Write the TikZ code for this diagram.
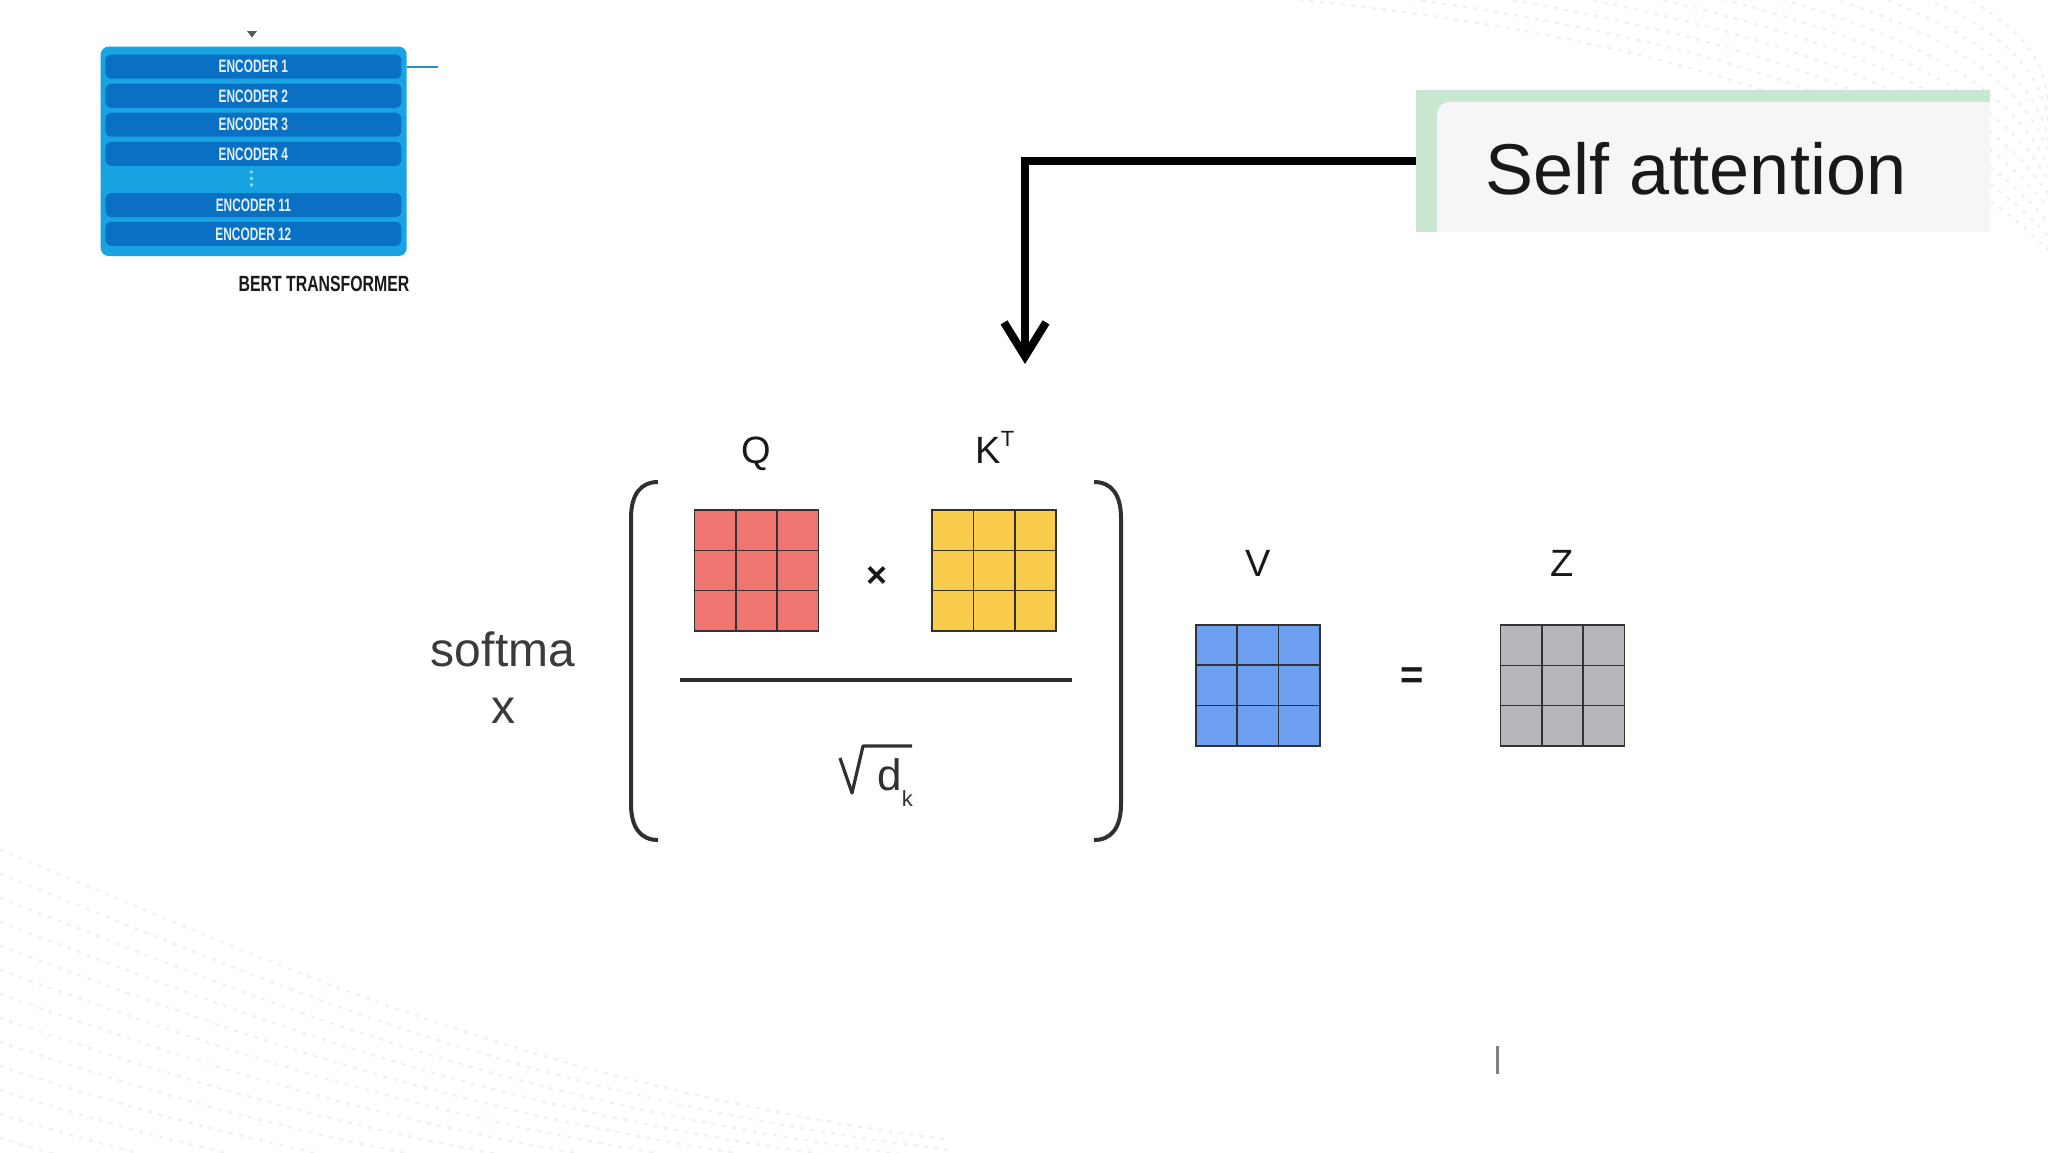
\documentclass[tikz,border=0pt]{standalone}
\usepackage{fontspec}
\setmainfont{Liberation Sans}
\newfontfamily\condfont[FakeStretch=0.66]{Liberation Sans}
\newfontfamily\titlefont[FakeStretch=0.72]{Liberation Sans}
\usetikzlibrary{arrows.meta,calc}

\definecolor{qred}{RGB}{239,118,112}
\definecolor{kyel}{RGB}{250,204,76}
\definecolor{vblue}{RGB}{109,160,240}
\definecolor{zgray}{RGB}{181,183,187}
\definecolor{gridc}{RGB}{50,50,50}
\definecolor{bertouter}{RGB}{24,164,226}
\definecolor{bertrow}{RGB}{10,112,196}
\definecolor{berttext}{RGB}{225,240,250}
\definecolor{bertdots}{RGB}{150,220,245}
\definecolor{bertline}{RGB}{40,140,200}
\definecolor{mint}{RGB}{200,230,208}
\definecolor{panel}{RGB}{246,246,248}
\definecolor{ink}{RGB}{25,25,25}
\definecolor{dotc}{RGB}{240,240,240}

\begin{document}
\begin{tikzpicture}[x=0.5pt,y=-0.5pt,
  mat/.style={draw=gridc, line width=0.8pt, minimum width=62pt, minimum height=60.5pt, inner sep=0pt,
    path picture={
      \foreach \f in {1,2}{
        \draw[gridc,line width=0.8pt]
          ($(path picture bounding box.south west)!\f/3!(path picture bounding box.south east)$) --
          ($(path picture bounding box.north west)!\f/3!(path picture bounding box.north east)$);
        \draw[gridc,line width=0.8pt]
          ($(path picture bounding box.south west)!\f/3!(path picture bounding box.north west)$) --
          ($(path picture bounding box.south east)!\f/3!(path picture bounding box.north east)$);
      }}},
  lbl/.style={font=\fontsize{19}{22}\selectfont, text=ink, inner sep=0pt, anchor=base},
  encrow/.style={fill=bertrow, rounded corners=3pt, minimum width=148pt, minimum height=12pt,
    inner sep=0pt, text=berttext, font=\condfont\bfseries\fontsize{9}{10}\selectfont},
  conn/.style={line width=4pt, draw=black, -{Straight Barb[length=17pt,width=21pt]}},
  paren/.style={line width=2pt, draw=ink!90},
  bgdots/.style={dotc, line width=1.2pt, dash pattern=on 1.2pt off 4pt, line cap=round}
]
\useasboundingbox (0,0) rectangle (2048,1152);
\fill[white] (0,0) rectangle (2048,1152);

% faint background dot waves
\foreach \i in {0,...,13}{
  \draw[bgdots] (0,850+\i*24) .. controls (250,950+\i*22) and (500,1080+\i*14) .. (950,1140+\i*10);
}
\foreach \i in {0,...,10}{
  \draw[bgdots] (1300+\i*40,0-\i*10) .. controls (1600+\i*30,30-\i*6) and (1900+\i*15,100-\i*10) .. (2048,250-\i*14);
}

% BERT block
\fill[gray!70!black] (247,31) -- (257,31) -- (252,37.5) -- cycle;
\node[fill=bertouter, rounded corners=4pt, minimum width=153pt, minimum height=104.7pt, inner sep=0pt] (bert) at (253.7,151.3) {};
\node[encrow] (enc1) at (253.4,66.7) {ENCODER 1};
\node[encrow] (enc2) at (253.4,95.8) {ENCODER 2};
\node[encrow] (enc3) at (253.4,124.7) {ENCODER 3};
\node[encrow] (enc4) at (253.4,153.8) {ENCODER 4};
\node[encrow] (enc11) at (253.4,205) {ENCODER 11};
\node[encrow] (enc12) at (253.4,233.8) {ENCODER 12};
\foreach \yy in {172,178.5,185}{\fill[bertdots] (251.5,\yy) circle (0.9pt);}
\coordinate (sideend) at (438,66.7);
\draw[bertline, line width=1pt] (bert.east |- enc1) -- (sideend);
\node[font=\titlefont\bfseries\fontsize{11}{12}\selectfont, text=ink, anchor=base, inner sep=0pt] (berttitle) at (324,291.7) {BERT TRANSFORMER};

% Self attention callout
\node[fill=mint, minimum width=287pt, minimum height=71pt, inner sep=0pt] (sa) at (1703,161) {};
\fill[panel] (1437,232) [rounded corners=6pt] -- (1437,102) [sharp corners] -- (1990,102) -- (1990,232) -- cycle;
\node[font=\fontsize{36}{40}\selectfont, text=ink, anchor=base, inner sep=0pt] (satext) at (1696,194) {Self attention};
\coordinate (atip) at (1025,364);
\draw[conn] (sa.west) -| (atip);

% softmax
\node[font=\fontsize{24}{28.5}\selectfont, text=ink!85, align=center, inner sep=0pt] (softmax) at (503,677.5) {softma\\x};

% parentheses
\draw[paren] (658,482) .. controls (641,482) and (631,494) .. (631,518) -- (631,804) .. controls (631,828) and (641,840) .. (658,840);
\draw[paren] (1094,482) .. controls (1111,482) and (1121,494) .. (1121,518) -- (1121,804) .. controls (1121,828) and (1111,840) .. (1094,840);

% matrices
\node[mat, fill=qred] (Q) at (756.5,570.5) {};
\node[mat, fill=kyel] (K) at (994.2,570.5) {};
\node[mat, fill=vblue] (V) at (1257.9,685.3) {};
\node[mat, fill=zgray] (Z) at (1562.5,685.5) {};

\node[lbl] (Qlbl) at (756.5,463) {Q};
\node[lbl] (Klbl) at (995,463) {K\raisebox{8.5pt}{\fontsize{11}{11}\selectfont T}};
\node[lbl] (Vlbl) at (1257.9,576.7) {V};
\node[lbl] (Zlbl) at (1562.5,576.7) {Z};

\node[font=\bfseries\fontsize{18}{20}\selectfont, text=ink, inner sep=0pt] (times) at (877,577) {×};
\node[font=\bfseries\fontsize{20}{22}\selectfont, text=ink, inner sep=0pt] (eq) at (1412,678) {=};

% fraction bar
\draw[line width=2pt, ink!90] (680,680) -- (1072,680);

% sqrt d_k
\draw[ink!90, line width=1.6pt, line join=round] (840,758) -- (852,793) -- (863,746) -- (912,746);
\node[font=\fontsize{22}{24}\selectfont, text=ink!90, anchor=base west, inner sep=0pt] (dk) at (877,790) {d\raisebox{-8pt}{\fontsize{11}{11}\selectfont k}};

% text cursor
\draw[gray, line width=1.5pt] (1497,1046) -- (1497,1074);
\end{tikzpicture}
\end{document}
